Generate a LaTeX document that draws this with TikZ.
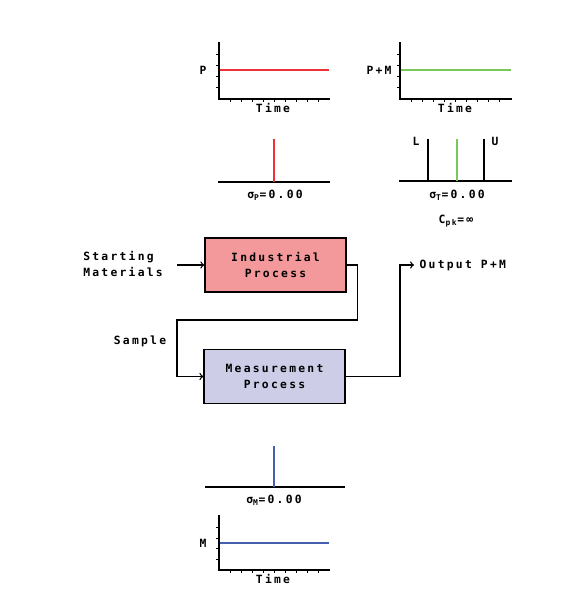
\documentclass[tikz,border=0pt]{standalone}
\usepackage{fontspec}
\setmonofont[LetterSpace=20]{DejaVu Sans Mono}
\usetikzlibrary{positioning}
\definecolor{pcol}{RGB}{235,50,55}
\definecolor{tcol}{RGB}{120,200,90}
\definecolor{mcol}{RGB}{70,95,175}
\definecolor{indfill}{RGB}{244,153,155}
\definecolor{measfill}{RGB}{205,205,232}
\tikzset{
  lbl/.style={font=\ttfamily\bfseries\fontsize{8.5}{12.5}\selectfont, inner sep=0pt},
  procbox/.style={draw, line width=1pt, minimum width=105.75pt, minimum height=40.5pt,
    align=center, font=\ttfamily\bfseries\fontsize{8.5}{12.5}\selectfont},
  wire/.style={line width=1pt},
  axis/.style={line width=1pt},
  tick/.style={line width=0.6pt},
}
\begin{document}
\begin{tikzpicture}[x=0.75pt,y=-0.75pt]
\useasboundingbox (0,0) rectangle (586,616);

% chart P
\draw[axis] (219,42) -- (219,99) -- (330,99);
\foreach \t in {54,65,76,87} \draw[tick] (216,\t) -- (219,\t);
\foreach \t in {230,241,...,320} \draw[tick] (\t,99) -- (\t,102);
\draw[pcol, line width=1pt] (220,70) -- (329,70);
\node[lbl] (plbl) at (203,70) {P};
\node[lbl] (ptime) at (273,108) {Time};

% chart P+M
\draw[axis] (400,42) -- (400,99) -- (512,99);
\foreach \t in {54,65,76,87} \draw[tick] (397,\t) -- (400,\t);
\foreach \t in {411,422,...,501} \draw[tick] (\t,99) -- (\t,102);
\draw[tcol, line width=1pt] (401,70) -- (511,70);
\node[lbl] (tlbl) at (379,70) {P+M};
\node[lbl] (ttime) at (455,108) {Time};

% sigma P
\draw[axis] (218,182) -- (330,182);
\draw[pcol, line width=1pt] (274,139) -- (274,182);
\node[lbl] (sigp) at (275,195) {σ\textsubscript{P}=0.00};

% sigma T
\draw[axis] (399,181) -- (512,181);
\draw[line width=1pt] (428,139) -- (428,181);
\draw[line width=1pt] (484,139) -- (484,181);
\draw[tcol, line width=1pt] (457,139) -- (457,181);
\node[lbl] (lo) at (416,141) {L};
\node[lbl] (up) at (495,141) {U};
\node[lbl] (sigt) at (457,195) {σ\textsubscript{T}=0.00};
\node[lbl] (cpk) at (456,221) {C\textsubscript{pk}=∞};

% processes
\node[procbox, fill=indfill] (ind) at (275.5,265) {Industrial\\Process};
\node[procbox, fill=measfill] (meas) at (274.5,376.5) {Measurement\\Process};
\node[lbl, anchor=west, align=left] (start) at (83,264) {Starting\\Materials};
\coordinate (startend) at (177,265);
\node[lbl] (sample) at (140,341) {Sample};
\node[lbl, anchor=west, inner sep=4pt] (out) at (414,265) {Output P+M};

\draw[wire,->] (startend) -- (ind.west |- startend);
\draw[wire,->] (ind.east) -- ++(11,0) |- (177,320) |- (meas.west);
\draw[wire,->] (meas.east) -| (400,265) -- (out.west);

% sigma M
\draw[axis] (205,487) -- (345,487);
\draw[mcol, line width=1pt] (274,446) -- (274,487);
\node[lbl] (sigm) at (274,500) {σ\textsubscript{M}=0.00};

% chart M
\draw[axis] (219,515) -- (219,570) -- (330,570);
\foreach \t in {527,538,548,559} \draw[tick] (216,\t) -- (219,\t);
\foreach \t in {230,241,...,320} \draw[tick] (\t,570) -- (\t,573);
\draw[mcol, line width=1pt] (220,543) -- (329,543);
\node[lbl] (mlbl) at (203,543) {M};
\node[lbl] (mtime) at (273,579) {Time};
\end{tikzpicture}
\end{document}
